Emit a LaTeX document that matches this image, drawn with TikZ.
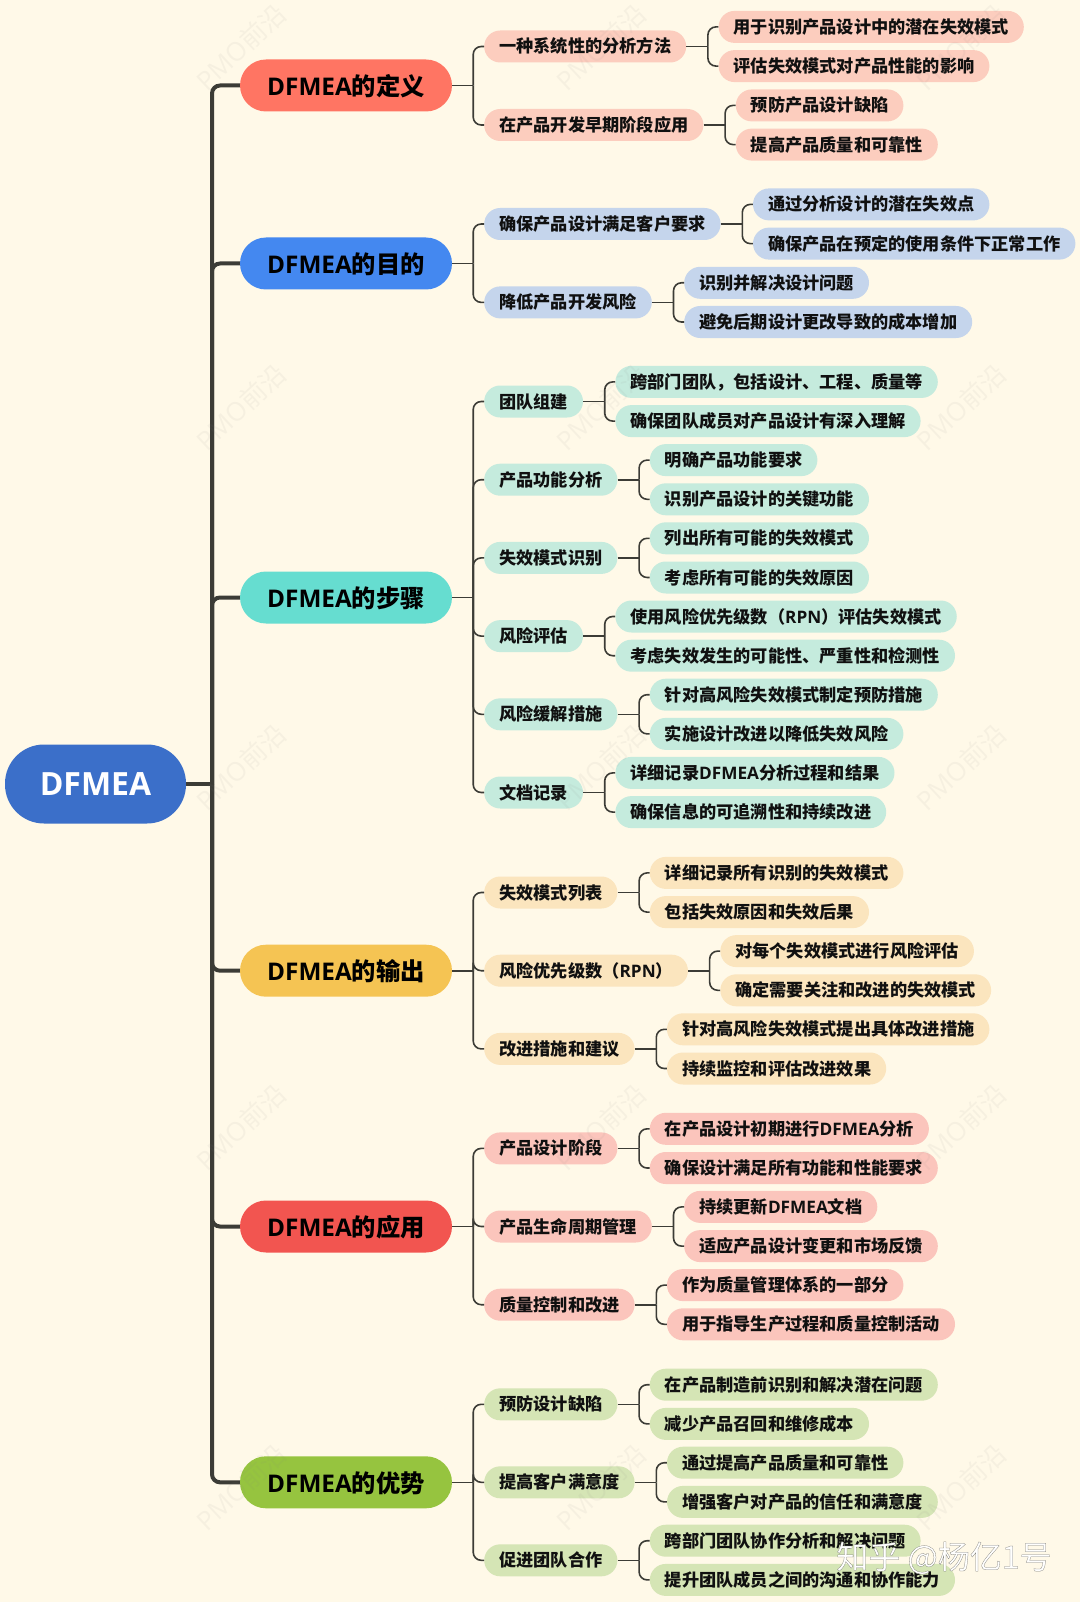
\documentclass[tikz,border=0pt]{standalone}
\usepackage{fontspec}
\setmainfont{Noto Sans CJK SC}
\newfontfamily\latf{Open Sans}[BoldFont={Open Sans Bold}]
\newfontfamily\zhf{Noto Sans CJK SC}[FakeBold=0.8]
\usetikzlibrary{calc}
\definecolor{bgc}{HTML}{FFF9E8}
\definecolor{ink}{HTML}{101010}
\definecolor{linec}{HTML}{3C3C36}
\definecolor{rootc}{HTML}{3B6FC9}
\definecolor{ma}{HTML}{FF7563}\definecolor{la}{HTML}{FCCDBE}
\definecolor{mb}{HTML}{4488F0}\definecolor{lb}{HTML}{C5D5EC}
\definecolor{mc}{HTML}{66DDD0}\definecolor{lc}{HTML}{C5EBDD}
\definecolor{md}{HTML}{F5C453}\definecolor{ld}{HTML}{FBE5BE}
\definecolor{me}{HTML}{F25550}\definecolor{le}{HTML}{FBC5BC}
\definecolor{mf}{HTML}{96C43F}\definecolor{lf}{HTML}{D5E5B5}
\tikzset{
  rootbox/.style={rectangle,rounded corners=39pt,fill=rootc,text=white,minimum width=181pt,minimum height=79pt,inner sep=0pt,font=\fontsize{32}{36}\selectfont\bfseries\latf},
  mainbox/.style={rectangle,rounded corners=26pt,minimum width=212pt,minimum height=52pt,inner sep=0pt,text=black,font=\fontsize{24.3}{28}\selectfont\bfseries,text height=21.5pt,text depth=1.5pt},
  subbox/.style={rectangle,rounded corners=16pt,anchor=west,minimum height=32pt,inner xsep=15pt,inner ysep=0pt,text=ink,font=\fontsize{17.2}{20}\selectfont\bfseries,text height=14.8pt,text depth=1.8pt},
  thick line/.style={draw=linec,line width=4pt,rounded corners=8pt},
  thin line/.style={draw=linec,line width=1.6pt,rounded corners=8pt},
  mark text/.style={text=gray,opacity=0.07,rotate=43,font=\fontsize{26}{30}\selectfont}
}
% #1 id, #2 y, #3 parent, #4 colour, #5 text, #6 child one, #7 child two
\newcommand\twig[7]{%
  \node[subbox,fill=#4] (#1) at (484,#2) {#5};
  \coordinate (#1j) at ($(#1.east)+(21.5,0)$);
  \coordinate (#1k) at ($(#1.east)+(32,0)$);
  \node[subbox,fill=#4] (#1u) at (#1k |- 0,#2-19.6) {#6};
  \node[subbox,fill=#4] (#1d) at (#1k |- 0,#2+19.6) {#7};
  \draw[thin line] (#1.east) -- (#1j);
  \draw[thin line] (#1j) |- (#1u.west);
  \draw[thin line] (#1j) |- (#1d.west);
  \coordinate (#1p) at ($(#3.east)+(21,0)$);
  \draw[thin line] (#1p) |- (#1.west);
}
\newcommand\mainn[4]{%
  \node[mainbox,fill=#1] (#2) at (346,#3) {{\latf DFMEA}#4};
  \draw[thick line] (tr) |- (#2.west);
  \draw[thin line] (#2.east) -- ($(#2.east)+(21,0)$);
}
\begin{document}
\begin{tikzpicture}[x=1pt,y=-1pt]
\useasboundingbox (0,0) rectangle (1080,1602);
\fill[bgc] (0,0) rectangle (1080,1602);
\node[rootbox] (root) at (95.5,784) {DFMEA};
\coordinate (tr) at (212,784);
\draw[thick line] (root.east) -- (tr);
\mainn{ma}{A}{85.5}{的定义}
\mainn{mb}{B}{263.5}{的目的}
\mainn{mc}{C}{597.5}{的步骤}
\mainn{md}{D}{970.7}{的输出}
\mainn{me}{E}{1226.5}{的应用}
\mainn{mf}{F}{1482.3}{的优势}
\twig{a1}{46.5}{A}{la}{一种系统性的分析方法}{用于识别产品设计中的潜在失效模式}{评估失效模式对产品性能的影响}
\twig{a2}{125}{A}{la}{在产品开发早期阶段应用}{预防产品设计缺陷}{提高产品质量和可靠性}
\twig{b1}{224}{B}{lb}{确保产品设计满足客户要求}{通过分析设计的潜在失效点}{确保产品在预定的使用条件下正常工作}
\twig{b2}{302.4}{B}{lb}{降低产品开发风险}{识别并解决设计问题}{避免后期设计更改导致的成本增加}
\twig{c1}{401.5}{C}{lc}{团队组建}{跨部门团队，包括设计、工程、质量等}{确保团队成员对产品设计有深入理解}
\twig{c2}{479.7}{C}{lc}{产品功能分析}{明确产品功能要求}{识别产品设计的关键功能}
\twig{c3}{557.9}{C}{lc}{失效模式识别}{列出所有可能的失效模式}{考虑所有可能的失效原因}
\twig{c4}{636.1}{C}{lc}{风险评估}{使用风险优先级数（{\latf RPN}）评估失效模式}{考虑失效发生的可能性、严重性和检测性}
\twig{c5}{714.3}{C}{lc}{风险缓解措施}{针对高风险失效模式制定预防措施}{实施设计改进以降低失效风险}
\twig{c6}{792.5}{C}{lc}{文档记录}{详细记录{\latf DFMEA}分析过程和结果}{确保信息的可追溯性和持续改进}
\twig{d1}{892.5}{D}{ld}{失效模式列表}{详细记录所有识别的失效模式}{包括失效原因和失效后果}
\twig{d2}{970.7}{D}{ld}{风险优先级数（{\latf RPN}）}{对每个失效模式进行风险评估}{确定需要关注和改进的失效模式}
\twig{d3}{1048.9}{D}{ld}{改进措施和建议}{针对高风险失效模式提出具体改进措施}{持续监控和评估改进效果}
\twig{e1}{1148.4}{E}{le}{产品设计阶段}{在产品设计初期进行{\latf DFMEA}分析}{确保设计满足所有功能和性能要求}
\twig{e2}{1226.5}{E}{le}{产品生命周期管理}{持续更新{\latf DFMEA}文档}{适应产品设计变更和市场反馈}
\twig{e3}{1304.7}{E}{le}{质量控制和改进}{作为质量管理体系的一部分}{用于指导生产过程和质量控制活动}
\twig{f1}{1404.3}{F}{lf}{预防设计缺陷}{在产品制造前识别和解决潜在问题}{减少产品召回和维修成本}
\twig{f2}{1482.3}{F}{lf}{提高客户满意度}{通过提高产品质量和可靠性}{增强客户对产品的信任和满意度}
\twig{f3}{1560.3}{F}{lf}{促进团队合作}{跨部门团队协作分析和解决问题}{提升团队成员之间的沟通和协作能力}
\foreach \px/\py [count=\i] in {241/47,601/47,961/47,241/407,601/407,961/407,241/767,601/767,961/767,241/1127,601/1127,961/1127,241/1487,601/1487,961/1487}
  \node[mark text] (wm\i) at (\px,\py) {{\latf PMO}前沿};
\node[text=white,anchor=center,font=\fontsize{32}{34}\selectfont\zhf] (zh) at (944,1558) {\special{pdf:code 0.5 0.5 0.48 RG}知乎 @杨亿1号};
\end{tikzpicture}
\end{document}
